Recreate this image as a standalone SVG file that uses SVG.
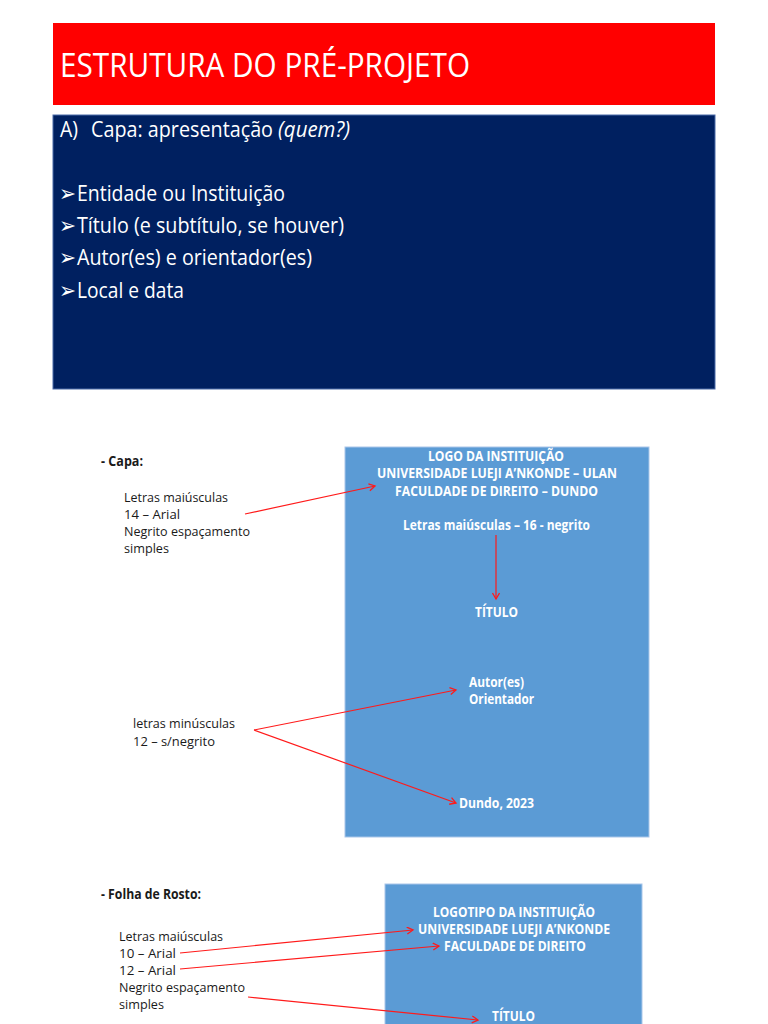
<svg xmlns="http://www.w3.org/2000/svg" width="768" height="1024" viewBox="0 0 768 1024">
<defs>
<style>
.f{font-family:"Open Sans","Noto Sans","DejaVu Sans",sans-serif}
.w{fill:#ffffff}
.k{fill:#1a1a1a}
.b{font-weight:bold}
.s{font-size:13.5px}
.h{font-size:21px}
.bl{fill:#5b9bd5;stroke:#a9c6e9;stroke-width:1}
.ar{stroke:#ff1a1a;stroke-width:1.2;fill:none;marker-end:url(#ah)}
</style>
<marker id="ah" markerWidth="10" markerHeight="10" refX="7" refY="4" orient="auto" markerUnits="userSpaceOnUse">
<path d="M1,0.5 L7,4 L1,7.5" fill="none" stroke="#ff1a1a" stroke-width="1.3"/>
</marker>
</defs>
<rect width="768" height="1024" fill="#ffffff"/>

<g id="header">
<rect x="53" y="23" width="662" height="82" fill="#ff0000"/>
<text class="f w" x="60" y="77" font-size="33" textLength="410" lengthAdjust="spacingAndGlyphs">ESTRUTURA DO PRÉ-PROJETO</text>
</g>

<g id="capa-list">
<rect x="53" y="115" width="662" height="274" fill="#002060" stroke="#4a6aa8" stroke-width="1"/>
<text class="f w h" x="60" y="137" textLength="18" lengthAdjust="spacingAndGlyphs">A)</text>
<text class="f w h" x="91" y="137" textLength="182" lengthAdjust="spacingAndGlyphs">Capa: apresentação</text>
<text class="f w h" x="278" y="137" font-style="italic" textLength="72" lengthAdjust="spacingAndGlyphs">(quem?)</text>
<g font-family="'DejaVu Sans',sans-serif" font-size="22" fill="#ffffff">
<text x="59" y="201" textLength="17" lengthAdjust="spacingAndGlyphs">➢</text>
<text x="59" y="233" textLength="17" lengthAdjust="spacingAndGlyphs">➢</text>
<text x="59" y="265" textLength="17" lengthAdjust="spacingAndGlyphs">➢</text>
<text x="59" y="298" textLength="17" lengthAdjust="spacingAndGlyphs">➢</text>
</g>
<text class="f w h" x="77" y="201" textLength="208" lengthAdjust="spacingAndGlyphs">Entidade ou Instituição</text>
<text class="f w h" x="77" y="233" textLength="267" lengthAdjust="spacingAndGlyphs">Título (e subtítulo, se houver)</text>
<text class="f w h" x="77" y="265" textLength="235" lengthAdjust="spacingAndGlyphs">Autor(es) e orientador(es)</text>
<text class="f w h" x="77" y="298" textLength="107" lengthAdjust="spacingAndGlyphs">Local e data</text>
</g>

<g id="capa-notes">
<text class="f k b s" x="101" y="466" textLength="42" lengthAdjust="spacingAndGlyphs">- Capa:</text>
<text class="f k s" x="124" y="502" textLength="104" lengthAdjust="spacingAndGlyphs">Letras maiúsculas</text>
<text class="f k s" x="124" y="519" textLength="56" lengthAdjust="spacingAndGlyphs">14 – Arial</text>
<text class="f k s" x="124" y="536" textLength="126" lengthAdjust="spacingAndGlyphs">Negrito espaçamento</text>
<text class="f k s" x="124" y="553" textLength="45" lengthAdjust="spacingAndGlyphs">simples</text>
<text class="f k s" x="133" y="728" textLength="102" lengthAdjust="spacingAndGlyphs">letras minúsculas</text>
<text class="f k s" x="133" y="746" textLength="82" lengthAdjust="spacingAndGlyphs">12 – s/negrito</text>
</g>

<g id="capa-page">
<rect class="bl" x="345" y="447" width="304" height="390"/>
<text class="f w b s" x="428" y="461" textLength="136" lengthAdjust="spacingAndGlyphs">LOGO DA INSTITUIÇÃO</text>
<text class="f w b s" x="377" y="478" textLength="240" lengthAdjust="spacingAndGlyphs">UNIVERSIDADE LUEJI A’NKONDE – ULAN</text>
<text class="f w b s" x="395" y="496" textLength="203" lengthAdjust="spacingAndGlyphs">FACULDADE DE DIREITO – DUNDO</text>
<text class="f w b s" x="403" y="530" textLength="187" lengthAdjust="spacingAndGlyphs">Letras maiúsculas – 16 - negrito</text>
<text class="f w b s" x="475" y="617" textLength="43" lengthAdjust="spacingAndGlyphs">TÍTULO</text>
<text class="f w b s" x="469" y="687" textLength="55" lengthAdjust="spacingAndGlyphs">Autor(es)</text>
<text class="f w b s" x="469" y="704" textLength="65" lengthAdjust="spacingAndGlyphs">Orientador</text>
<text class="f w b s" x="459" y="808" textLength="75" lengthAdjust="spacingAndGlyphs">Dundo, 2023</text>
</g>

<g id="rosto-notes">
<text class="f k b s" x="101" y="899" textLength="100" lengthAdjust="spacingAndGlyphs">- Folha de Rosto:</text>
<text class="f k s" x="119" y="941" textLength="104" lengthAdjust="spacingAndGlyphs">Letras maiúsculas</text>
<text class="f k s" x="119" y="958" textLength="57" lengthAdjust="spacingAndGlyphs">10 – Arial</text>
<text class="f k s" x="119" y="975" textLength="57" lengthAdjust="spacingAndGlyphs">12 – Arial</text>
<text class="f k s" x="119" y="992" textLength="126" lengthAdjust="spacingAndGlyphs">Negrito espaçamento</text>
<text class="f k s" x="119" y="1009" textLength="45" lengthAdjust="spacingAndGlyphs">simples</text>
</g>

<g id="rosto-page">
<rect class="bl" x="385" y="884" width="257" height="150"/>
<text class="f w b s" x="433" y="917" textLength="162" lengthAdjust="spacingAndGlyphs">LOGOTIPO DA INSTITUIÇÃO</text>
<text class="f w b s" x="418" y="934" textLength="192" lengthAdjust="spacingAndGlyphs">UNIVERSIDADE LUEJI A’NKONDE</text>
<text class="f w b s" x="444" y="951" textLength="142" lengthAdjust="spacingAndGlyphs">FACULDADE DE DIREITO</text>
<text class="f w b s" x="492" y="1021" textLength="43" lengthAdjust="spacingAndGlyphs">TÍTULO</text>
</g>

<g id="connectors">
<line class="ar" x1="245" y1="514" x2="375" y2="486"/>
<line class="ar" x1="496" y1="535" x2="496" y2="599"/>
<line class="ar" x1="254" y1="730" x2="456" y2="690"/>
<line class="ar" x1="254" y1="730" x2="456" y2="803"/>
<line class="ar" x1="180" y1="953" x2="413" y2="930"/>
<line class="ar" x1="180" y1="969" x2="439" y2="946"/>
<line class="ar" x1="248" y1="997" x2="478" y2="1020"/>
</g>
</svg>
